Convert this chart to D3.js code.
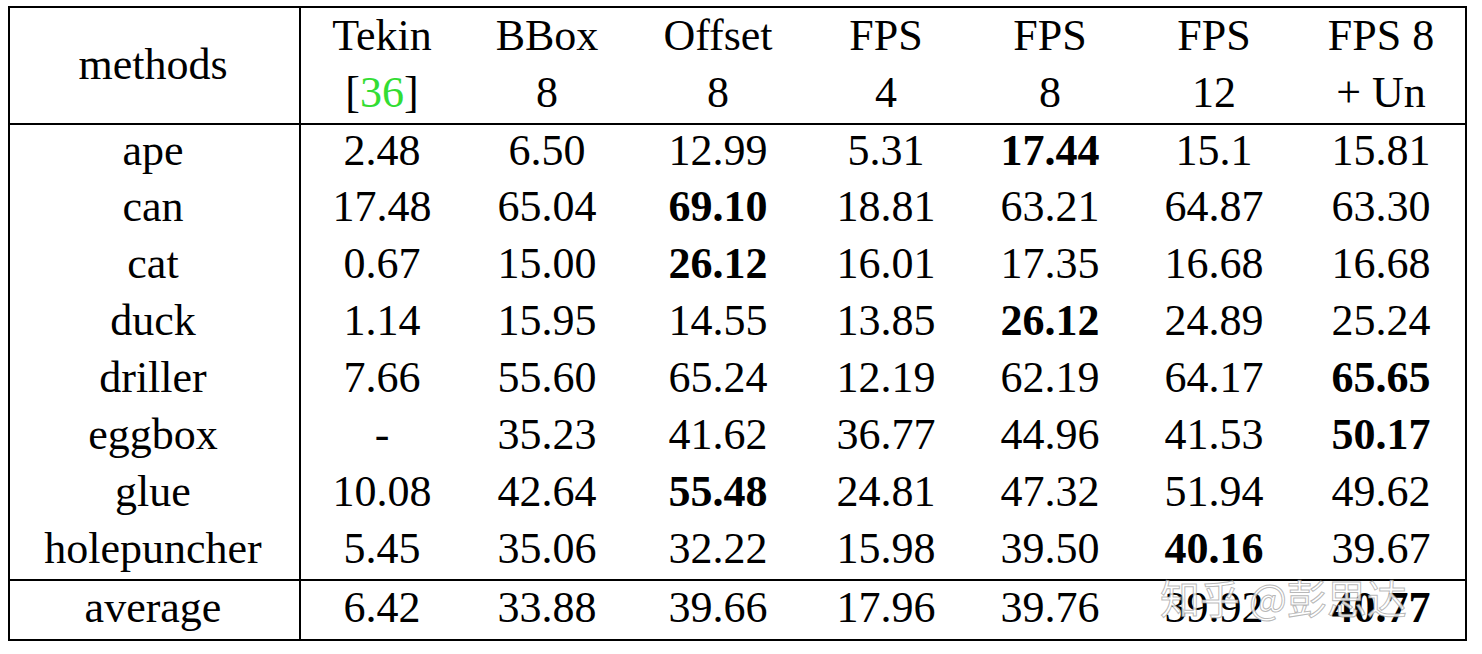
<!DOCTYPE html>
<html><head><meta charset="utf-8">
<script src="https://cdn.jsdelivr.net/npm/d3@7"></script>
<style>body{margin:0;background:#fff}</style></head>
<body><svg id="c" width="1482" height="654"></svg>
<script>
const headLine1 = ["Tekin","BBox","Offset","FPS","FPS","FPS","FPS 8"];
const headLine2 = ["[36]","8","8","4","8","12","+ Un"];
const rowNames = ["ape","can","cat","duck","driller","eggbox","glue","holepuncher","average"];
const tekin  = ["2.48","17.48","0.67","1.14","7.66","-","10.08","5.45","6.42"];
const bbox8  = ["6.50","65.04","15.00","15.95","55.60","35.23","42.64","35.06","33.88"];
const off8   = ["12.99","69.10","26.12","14.55","65.24","41.62","55.48","32.22","39.66"];
const fps4   = ["5.31","18.81","16.01","13.85","12.19","36.77","24.81","15.98","17.96"];
const fps8   = ["17.44","63.21","17.35","26.12","62.19","44.96","47.32","39.50","39.76"];
const fps12  = ["15.1","64.87","16.68","24.89","64.17","41.53","51.94","40.16","39.92"];
const fps8un = ["15.81","63.30","16.68","25.24","65.65","50.17","49.62","39.67","40.77"];
const boldCol = [4,2,2,4,6,6,2,5,6];

const cols = [tekin,bbox8,off8,fps4,fps8,fps12,fps8un];
const svg = d3.select("#c");
const font = "'Liberation Serif','DejaVu Serif',serif";
const colCenters = [153,382,547,718,886,1050,1214,1381];
const x = d3.scaleOrdinal().domain(d3.range(8)).range(colCenters);
const y = d3.scaleLinear().domain([0,7]).range([150,548]);

const line=(x1,y1,x2,y2,w)=>svg.append("line").attr("x1",x1).attr("y1",y1).attr("x2",x2).attr("y2",y2).attr("stroke","#000").attr("stroke-width",w||2);
line(8,7,1467,7); line(8,124,1467,124); line(8,580,1467,580); line(8,640,1467,640);
line(9,7,9,640); line(1466,7,1466,640); line(300,7,300,640);

const t=(xx,yy,txt,bold)=>svg.append("text").attr("x",xx).attr("y",yy).attr("text-anchor","middle")
  .attr("dominant-baseline","central").attr("font-family",font).attr("font-size",44)
  .attr("font-weight",bold?"bold":"normal").attr("fill","#000").text(txt);

t(x(0),64,"methods");
headLine1.forEach((h,i)=>t(x(i+1),35,h));
headLine2.forEach((h,i)=>{
  if(h==="[36]"){
    const e=t(x(i+1),92,"");
    e.append("tspan").text("[");
    e.append("tspan").attr("fill","#33dd33").text("36");
    e.append("tspan").text("]");
  } else t(x(i+1),92,h);
});
rowNames.forEach((r,ri)=>{
  const yy = ri<8 ? y(ri) : 607;
  t(x(0),yy,r);
  cols.forEach((c,ci)=>t(x(ci+1),yy,c[ri],boldCol[ri]===ci));
});
svg.append("text").attr("x",1160).attr("y",597).attr("dominant-baseline","central")
  .attr("font-family","'Noto Sans CJK SC',sans-serif").attr("font-size",40)
  .attr("fill","#fff").attr("fill-opacity",0.85).attr("stroke","#888").attr("stroke-width",1).attr("stroke-opacity",0.6)
  .text("知乎 @彭思达");
</script></body></html>
